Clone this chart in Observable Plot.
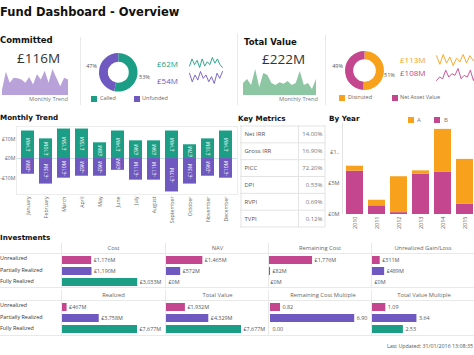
<!DOCTYPE html>
<html><head><meta charset="utf-8">
<script src="https://cdn.jsdelivr.net/npm/d3@7"></script>
<script src="https://cdn.jsdelivr.net/npm/@observablehq/plot@0.6"></script>
<style>
body{margin:0;background:#fff;}
#root{position:relative;width:474px;height:355px;overflow:hidden;background:#fff;font-family:"Open Sans",sans-serif;}
</style></head><body><div id="root"></div>
<script>
// ---------- data ----------
const committedTrend = [15,67,35,50,48,45,35,52,30,60,45,70,35,75,50,25,50,45];
const totalValueTrend = [30,40,25,65,20,55,50,30,25,32,28,35,25,30,60,25,30,15,40];
const calledTrend = [4,9,5,8,3,9,4,7,5,10,6,9,5,3];
const unfundedTrend = [8,3,7,4,9,5,7,3,6,2,8,5,9];
const distributedTrend = [9,2,10,3,8,1,7,4,10,3,9,5,8];
const navTrend = [3,5,4,9,5,7,6,10,4,6,5,9,3,7];

const committedSplit = ["Called","Unfunded"];
const committedSplitValues = [62,54];
const valueSplit = ["Distruted","Net Asset Value"];
const valueSplitValues = [113,108];

const months = ["January","February","March","April","May","June","July","August","September","October","November","December"];
const monthlyCalled = [14,10,15,15,8,14,9,9,14,7,10,14];
const monthlyUnfunded = [-8,-13,-10,-9,-9,-6,-11,-11,-17,-13,-9,-10];

const metricNames = ["Net IRR","Gross IRR","PICC","DPI","RVPI","TVPI"];
const metricValues = [14.00,16.90,72.20,0.53,0.69,0.12];

const years = ["2010","2011","2012","2013","2014","2015"];
const yearA = [0.8,0.9,5.8,0.55,6.95,7.25];
const yearB = [7.0,1.4,0.3,6.5,6.8,1.65];

const investmentCategories = ["Unrealized","Partially Realized","Fully Realized"];
const cost = [1176,1190,3033];
const nav = [1465,572,0];
const remainingCost = [1776,82,0];
const unrealizedGainLoss = [311,489,0];
const realized = [467,3758,7677];
const totalValue = [1932,4329,7677];
const remainingCostMultiple = [0.82,6.90,0.00];
const totalValueMultiple = [1.09,3.64,2.53];

// ---------- style ----------
const root = document.getElementById("root");
const FONT = "Open Sans";
const BOLD = "DejaVu Sans";
const COL = {teal:"#1b9e85", purple:"#6f59c0", magenta:"#c4468e", orange:"#f7a11d",
  lilac:"#b9a2d9", green:"#8dc6a3", line:"#e9e9e9", text:"#555"};
const baseStyle = {fontFamily: FONT, fontSize: "5.5px", color: "#666", background: "transparent", overflow: "visible"};

function place(node, x, y) {
  node.style.position = "absolute";
  node.style.left = x + "px";
  node.style.top = y + "px";
  root.appendChild(node);
  return node;
}
function label(s, x, y, o = {}) {
  const d = document.createElement("div");
  d.textContent = s;
  const a = o.anchor === "middle" ? -50 : o.anchor === "end" ? -100 : 0;
  Object.assign(d.style, {position: "absolute", left: x + "px", top: y + "px",
    fontSize: (o.size || 6) + "px", color: o.color || COL.text, fontWeight: o.weight || 400,
    fontFamily: o.family || FONT, whiteSpace: "nowrap", lineHeight: "1",
    transform: `translate(${a}%,-50%)`});
  root.appendChild(d);
}
function line(x, y, w, h, c = COL.line) {
  const d = document.createElement("div");
  Object.assign(d.style, {position: "absolute", left: x + "px", top: y + "px", width: w + "px", height: h + "px", background: c});
  root.appendChild(d);
}
function swatch(x, y, c) {
  const d = document.createElement("div");
  Object.assign(d.style, {position: "absolute", left: x + "px", top: y + "px", width: "6px", height: "6px", background: c});
  root.appendChild(d);
}

// ---------- panel lines ----------
line(80, 37, 1, 68);
line(237, 33, 1, 72);
line(325, 35, 1, 70);

// ---------- sparklines ----------
function area(values, color, x, y, w, h) {
  place(Plot.plot({width: w, height: h, margin: 0, style: baseStyle,
    x: {axis: null}, y: {axis: null, domain: [0, d3.max(values)]},
    marks: [Plot.areaY(values, {fill: color})]}), x, y);
}
function spark(values, color, x, y, w, h) {
  place(Plot.plot({width: w, height: h, margin: 1, style: baseStyle,
    x: {axis: null}, y: {axis: null, domain: d3.extent(values)},
    marks: [Plot.lineY(values, {stroke: color, strokeWidth: 0.9})]}), x, y);
}
area(committedTrend, COL.lilac, 2, 69, 66, 26);
area(totalValueTrend, COL.green, 243, 69, 73, 26);
spark(calledTrend, COL.teal, 188, 56, 35, 12);
spark(unfundedTrend, COL.purple, 188, 70, 35, 14);
spark(distributedTrend, COL.orange, 435, 53, 42, 13);
spark(navTrend, COL.magenta, 435, 67, 42, 14);

// ---------- donuts ----------
function donut(names, values, colors, cx, cy, rO, rI) {
  const s = 2 * rO + 2;
  const rows = names.map((n, i) => ({name: n, value: values[i]}));
  place(Plot.plot({width: s, height: s, margin: 0, style: baseStyle,
    color: {domain: names, range: colors},
    marks: [(index, scales, vals, dims) => {
      const g = d3.create("svg:g").attr("transform", `translate(${dims.width / 2},${dims.height / 2})`);
      const arcs = d3.pie().sort(null).value(d => d.value)(rows);
      const arc = d3.arc().innerRadius(rI).outerRadius(rO);
      g.selectAll("path").data(arcs).join("path").attr("d", arc)
        .attr("fill", d => (scales.color ? scales.color(d.data.name) : colors[names.indexOf(d.data.name)]));
      return g.node();
    }]}), cx - s / 2, cy - s / 2);
}
donut(committedSplit, committedSplitValues, [COL.teal, COL.purple], 118, 72.5, 19.3, 10.5);
donut(valueSplit, valueSplitValues, [COL.orange, COL.magenta], 364, 70.3, 19.5, 11.3);

// ---------- monthly trend ----------
const monthlyRows = months.flatMap((m, i) => [
  {month: m, value: monthlyCalled[i], kind: "Called"},
  {month: m, value: monthlyUnfunded[i], kind: "Unfunded"}]);
const moneyFmt = v => (v < 0 ? "-£" : "£") + Math.abs(v) + "M";
place(Plot.plot({
  width: 253, height: 115, marginLeft: 27, marginRight: 5, marginTop: 6, marginBottom: 41,
  style: {...baseStyle, fontSize: "5.2px"},
  x: {domain: months, paddingInner: 0.27, paddingOuter: 0.1, tickRotate: -90, tickSize: 0, tickPadding: 2, label: null},
  y: {domain: [-18.3, 16.3], ticks: [-10, 0, 10], tickFormat: moneyFmt, tickSize: 0, tickPadding: 1, label: null},
  color: {domain: ["Called", "Unfunded"], range: [COL.teal, COL.purple]},
  marks: [
    Plot.frame({stroke: "#ededed"}),
    Plot.ruleY([0], {stroke: "#cfe3e6"}),
    Plot.barY(monthlyRows, {x: "month", y: "value", fill: "kind"}),
    Plot.text(monthlyRows, {x: "month", y: d => d.value / 2, text: d => moneyFmt(d.value), rotate: -90, fill: "white", fontSize: 5.2})
  ]}), -11, 120);

// ---------- key metrics ----------
place(Plot.plot({
  width: 85, height: 102, margin: 0, style: {...baseStyle, fontSize: "6px"},
  x: {domain: [0, 85], axis: null}, y: {domain: [0, 6], range: [0.5, 101.5], axis: null},
  marks: [
    Plot.ruleY(d3.range(7), {stroke: "#e3e3e3"}),
    Plot.ruleX([0.5, 58, 84.5], {stroke: "#e3e3e3"}),
    Plot.text(metricNames, {y: (d, i) => i + 0.5, text: d => d, frameAnchor: "left", dx: 4, fill: "#555"}),
    Plot.text(metricValues, {y: (d, i) => i + 0.5, text: d => d.toFixed(2) + "%", frameAnchor: "right", dx: -3, fill: "#777"})
  ]}), 240, 125);

// ---------- by year ----------
const yearRows = years.flatMap((y, i) => [
  {year: y, series: "B", value: yearB[i]},
  {year: y, series: "A", value: yearA[i]}]);
place(Plot.plot({
  width: 151, height: 118, marginLeft: 17, marginRight: 0, marginTop: 5, marginBottom: 22,
  style: baseStyle,
  x: {domain: years, paddingInner: 0.23, paddingOuter: 0.135, tickRotate: -90, tickSize: 0, tickPadding: 2, label: null},
  y: {domain: [0, 14.7], ticks: [0, 5, 10], tickFormat: d => d === 10 ? "£1.." : `£${d}M`, tickSize: 0, tickPadding: 3, label: null},
  color: {domain: ["A", "B"], range: [COL.orange, COL.magenta]},
  marks: [Plot.barY(yearRows, {x: "year", y: "value", fill: "series"})]
}), 325, 118);
line(342, 123, 1, 91, "#e3e3e3");

// ---------- investments ----------
const gbp = v => "£" + d3.format(",")(v) + "M";
const mult = d3.format(".2f");
function invCol(values, x0, top, maxVal, fmt) {
  const rows = investmentCategories.map((c, i) => ({category: c, value: values[i]}));
  place(Plot.plot({width: 103, height: 35, margin: 0, style: baseStyle,
    x: {domain: [0, maxVal], axis: null},
    y: {domain: investmentCategories, axis: null, paddingInner: 0.3, paddingOuter: 0.15},
    color: {domain: investmentCategories, range: [COL.magenta, COL.purple, COL.teal]},
    marks: [
      Plot.barX(rows, {x: "value", y: "category", fill: "category"}),
      Plot.text(rows, {x: "value", y: "category", text: d => fmt(d.value), dx: 2, textAnchor: "start", fill: "#555", fontSize: 5.4})
    ]}), x0, top);
}
const top1 = 253, top2 = 300;
invCol(cost, 62, top1, 4153, gbp);
invCol(nav, 166, top1, 4153, gbp);
invCol(remainingCost, 268, top1, 4153, gbp);
invCol(unrealizedGainLoss, 372, top1, 4153, gbp);
invCol(realized, 62, top2, 10540, gbp);
invCol(totalValue, 166, top2, 10540, gbp);
invCol(remainingCostMultiple, 270, top2, 8.44, mult);
invCol(totalValueMultiple, 372, top2, 8.44, mult);

line(0, 253, 474, 1); line(0, 287, 474, 1); line(0, 300, 474, 1); line(0, 335, 474, 1);
[61, 165, 268, 371].forEach(x => { line(x, 243, 1, 44); line(x, 290, 1, 45); });

// ---------- text ----------
label("Fund Dashboard - Overview", 0, 12.5, {size: 11.5, weight: 700, family: BOLD, color: "#111"});
label("Committed", 0, 40, {size: 8.5, weight: 700, family: BOLD, color: "#111"});
label("£116M", 17, 59, {size: 13.5, color: "#333"});
label("Monthly Trend", 68, 100, {size: 5.7, anchor: "end", color: "#777"});
label("47%", 97, 66.7, {size: 5.5, anchor: "end", color: "#555"});
label("53%", 139, 78.3, {size: 5.5, color: "#555"});
label("£62M", 157, 64, {size: 8, color: COL.teal});
label("£54M", 157, 81, {size: 8, color: COL.purple});
swatch(91, 96, COL.teal); label("Called", 100, 99, {size: 5.5, color: "#666"});
swatch(134, 96, COL.purple); label("Unfunded", 142, 99, {size: 5.5, color: "#666"});

label("Total Value", 244, 41.7, {size: 8.5, weight: 700, family: BOLD, color: "#111"});
label("£222M", 262, 59.5, {size: 13.5, color: "#333"});
label("Monthly Trend", 318, 100, {size: 5.7, anchor: "end", color: "#777"});
label("49%", 343, 66.7, {size: 5.5, anchor: "end", color: "#555"});
label("51%", 384, 75.5, {size: 5.5, color: "#555"});
label("£113M", 400, 59.5, {size: 8, color: COL.orange});
label("£108M", 400, 72.7, {size: 8, color: COL.magenta});
swatch(339, 95, COL.orange); label(valueSplit[0], 348, 97.8, {size: 5.5, color: "#666"});
swatch(392, 95, COL.magenta); label(valueSplit[1], 400, 97.8, {size: 5.5, color: "#666"});

label("Monthly Trend", 0, 118, {size: 7.2, weight: 700, family: BOLD, color: "#111"});
label("Key Metrics", 238, 118.7, {size: 7.2, weight: 700, family: BOLD, color: "#111"});
label("By Year", 329, 118.7, {size: 7.2, weight: 700, family: BOLD, color: "#111"});
swatch(408, 117, COL.orange); label("A", 417, 120, {size: 6, color: "#777"});
swatch(434, 117, COL.magenta); label("B", 444, 120, {size: 6, color: "#777"});

label("Investments", 0, 238, {size: 7.2, weight: 700, family: BOLD, color: "#111"});
[["Cost", 113.5], ["NAV", 217.5], ["Remaining Cost", 320], ["Unrealized Gain/Loss", 423]].forEach(([t, x]) => label(t, x, 249, {size: 5.8, anchor: "middle", color: "#666"}));
[["Realized", 113.5], ["Total Value", 217.5], ["Remaining Cost Multiple", 323], ["Total Value Multiple", 424]].forEach(([t, x]) => label(t, x, 296, {size: 5.8, anchor: "middle", color: "#666"}));
[258.8, 270.5, 282.2].forEach((y, i) => label(investmentCategories[i], 0, y, {size: 5.4, color: "#333"}));
[305.8, 317.5, 329.2].forEach((y, i) => label(investmentCategories[i], 0, y, {size: 5.4, color: "#333"}));

label("Last Updated: 31/01/2016 13:08:35", 473, 347.3, {size: 5.3, anchor: "end", color: "#555"});
</script>
</body></html>
